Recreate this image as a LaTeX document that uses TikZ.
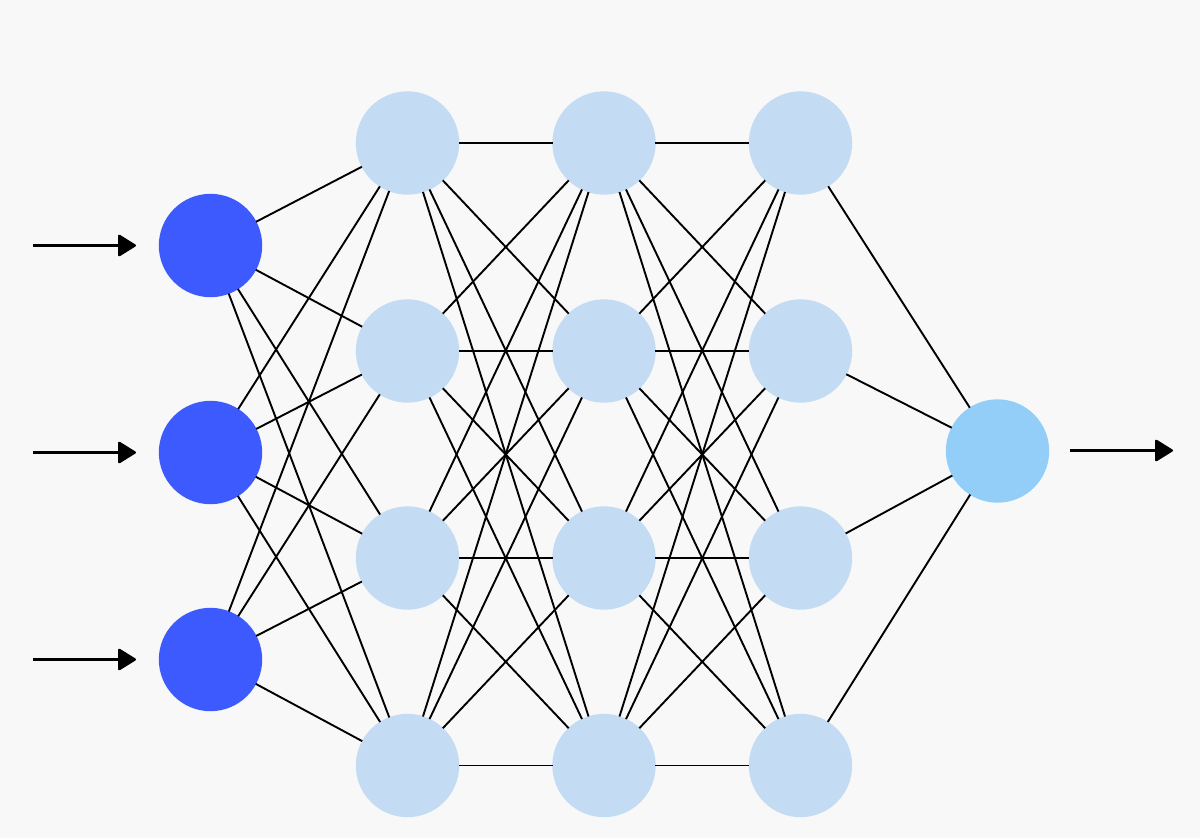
\documentclass[tikz,border=0pt]{standalone}
\usetikzlibrary{arrows.meta}
\definecolor{bgc}{HTML}{F8F8F8}
\definecolor{inc}{HTML}{3D5AFE}
\definecolor{hidc}{HTML}{C4DCF3}
\definecolor{outc}{HTML}{93CEF8}
\begin{document}
\begin{tikzpicture}[x=1pt,y=-1pt,
  neuron/.style={circle,draw=none,inner sep=0pt,minimum size=103.4pt},
  innode/.style={neuron,fill=inc},
  hidnode/.style={neuron,fill=hidc},
  outnode/.style={neuron,fill=outc},
  edge/.style={draw=black,line width=1.9pt,shorten <=-0.5pt,shorten >=-0.5pt},
  ioarrow/.style={draw=black,line width=2.3pt,-{Triangle[length=19pt,width=23pt,round]}}]
\fill[bgc] (0,0) rectangle (1200,838);
\useasboundingbox (0,0) rectangle (1200,838);
% input layer
\node[innode] (i1) at (210.5,245.5) {};
\node[innode] (i2) at (210.5,452.5) {};
\node[innode] (i3) at (210.5,659.5) {};
% hidden layers
\foreach \c/\x in {a/407.5,b/604,c/800.5}{
  \node[hidnode] (\c1) at (\x,143) {};
  \node[hidnode] (\c2) at (\x,351) {};
  \node[hidnode] (\c3) at (\x,558) {};
  \node[hidnode] (\c4) at (\x,765.5) {};
}
% output
\node[outnode] (o) at (997.5,451) {};
% arrow ends
\coordinate (s1) at (33,245.5);
\coordinate (s2) at (33,452.5);
\coordinate (s3) at (33,659.5);
\coordinate (t1) at (136,245.5);
\coordinate (t2) at (136,452.5);
\coordinate (t3) at (136,659.5);
\coordinate (os) at (1070,450.5);
\coordinate (ot) at (1173,450.5);
% connections
\foreach \i in {1,2,3}{\foreach \j in {1,2,3,4}{\draw[edge] (i\i) -- (a\j);}}
\foreach \i in {1,2,3,4}{\foreach \j in {1,2,3,4}{
  \draw[edge] (a\i) -- (b\j);
  \draw[edge] (b\i) -- (c\j);}}
\foreach \i in {1,2,3,4}{\draw[edge] (c\i) -- (o);}
% input and output arrows
\foreach \i in {1,2,3}{\draw[ioarrow] (s\i) -- (t\i);}
\draw[ioarrow] (os) -- (ot);
\end{tikzpicture}
\end{document}
